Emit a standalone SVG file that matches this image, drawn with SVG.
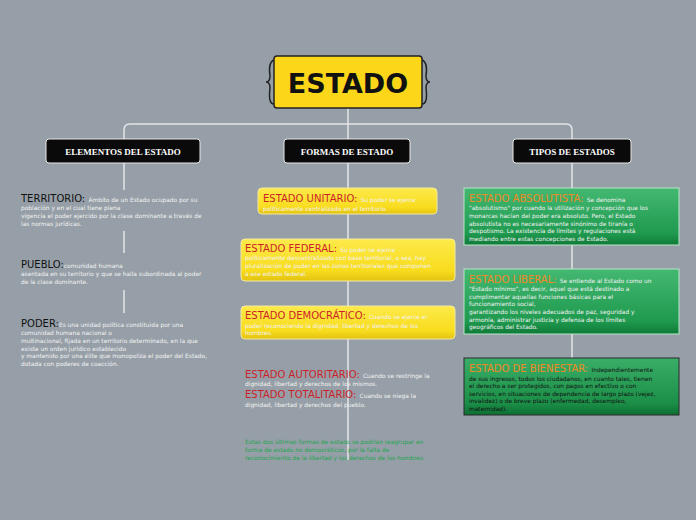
<svg xmlns="http://www.w3.org/2000/svg" width="696" height="520" viewBox="0 0 696 520">
<defs>
<linearGradient id="gy" x1="0" y1="0" x2="0" y2="1"><stop offset="0" stop-color="#fdea4a"/><stop offset="0.75" stop-color="#f8dc1e"/><stop offset="1" stop-color="#e3c20f"/></linearGradient>
<linearGradient id="gg" x1="0" y1="0" x2="0" y2="1"><stop offset="0" stop-color="#44b872"/><stop offset="0.8" stop-color="#1f9a4f"/><stop offset="1" stop-color="#0f7a38"/></linearGradient>
<linearGradient id="gg2" x1="0" y1="0" x2="0" y2="1"><stop offset="0" stop-color="#3aae68"/><stop offset="0.8" stop-color="#1b8e47"/><stop offset="1" stop-color="#0c6e32"/></linearGradient>
<style>
.t{font-family:"DejaVu Sans",sans-serif;font-size:10px}
.s{font-family:"DejaVu Sans",sans-serif;font-size:5.9px}
.hd{font-family:"Liberation Serif",serif;font-size:9px;font-weight:bold;fill:#fff;text-anchor:middle}
.hb{fill:#0a0a0a;stroke:#e8e8e8;stroke-width:1}
.ln{stroke:#e4e6e8;stroke-width:1.5;fill:none}
.yb{fill:url(#gy);stroke:#f3e9a0;stroke-width:1}
.gb{fill:url(#gg);stroke:#b8e6c8;stroke-width:1}
.red{fill:#cc1f2a}.org{fill:#f08a24}.wh{fill:#f2f2f2}.bk{fill:#111}
</style>
</defs>
<rect width="696" height="520" fill="#969fa7"/>
<g id="connectors" class="ln">
<path d="M348 108V139M124 139V130Q124 124 130 124H566Q572 124 572 130V139"/>
<path d="M124 163V190M124 231V253M124 290V313"/>
<path d="M348 163V460"/>
<path d="M572 163V188M572 245V269M572 334V358"/>
</g>
<g id="estado">
<path d="M274 60 Q268 62 270 76 Q270 82 266 82 Q270 82 270 88 Q268 104 274 104" fill="none" stroke="#222" stroke-width="1.5"/>
<path d="M422 60 Q428 62 426 76 Q426 82 430 82 Q426 82 426 88 Q428 104 422 104" fill="none" stroke="#222" stroke-width="1.5"/>
<rect x="274" y="56" width="148" height="52" rx="3" fill="#fcd619" stroke="#222" stroke-width="1.5"/>
<text x="348" y="93" text-anchor="middle" font-family="'DejaVu Sans',sans-serif" font-weight="bold" font-size="27" fill="#111">ESTADO</text>
</g>
<g id="h-elementos"><rect class="hb" x="46" y="139" width="154" height="24" rx="3"/><text class="hd" x="123" y="155">ELEMENTOS DEL ESTADO</text></g>
<g id="h-formas"><rect class="hb" x="284" y="139" width="126" height="24" rx="3"/><text class="hd" x="347" y="155">FORMAS DE ESTADO</text></g>
<g id="h-tipos"><rect class="hb" x="513" y="139" width="118" height="24" rx="3"/><text class="hd" x="572" y="155">TIPOS DE ESTADOS</text></g>
<g id="territorio">
<text x="21" y="202"><tspan class="t bk">TERRITORIO: </tspan><tspan class="s wh">Ámbito de un Estado ocupado por su</tspan></text>
<text class="s wh" x="21" y="210">población y en el cual tiene plena</text>
<text class="s wh" x="21" y="217.5">vigencia el poder ejercido por la clase dominante a través de</text>
<text class="s wh" x="21" y="225.5">las normas jurídicas.</text>
</g>
<g id="pueblo">
<text x="21" y="268"><tspan class="t bk">PUEBLO:</tspan><tspan class="s wh">comunidad humana</tspan></text>
<text class="s wh" x="21" y="276">asentada en su territorio y que se halla subordinada al poder</text>
<text class="s wh" x="21" y="284">de la clase dominante.</text>
</g>
<g id="poder">
<text x="21" y="327"><tspan class="t bk">PODER:</tspan><tspan class="s wh">Es una unidad política constituida por una</tspan></text>
<text class="s wh" x="21" y="334.5">comunidad humana nacional o</text>
<text class="s wh" x="21" y="342.5">multinacional, fijada en un territorio determinado, en la que</text>
<text class="s wh" x="21" y="350.5">existe un orden jurídico establecido</text>
<text class="s wh" x="21" y="357.5">y mantenido por una élite que monopoliza el poder del Estado,</text>
<text class="s wh" x="21" y="365.5">dotada con poderes de coacción.</text>
</g>
<g id="unitario">
<rect class="yb" x="258" y="188" width="179" height="26" rx="4"/>
<text x="263" y="202"><tspan class="t red">ESTADO UNITARIO: </tspan><tspan class="s wh">Su poder se ejerce</tspan></text>
<text class="s wh" x="263" y="210.5">políticamente centralizado en el territorio.</text>
</g>
<g id="federal">
<rect class="yb" x="241" y="239" width="214" height="42" rx="4"/>
<text x="245" y="252"><tspan class="t red">ESTADO FEDERAL: </tspan><tspan class="s wh">Su poder se ejerce</tspan></text>
<text class="s wh" x="245" y="260">políticamente descentralizado con base territorial, o sea, hay</text>
<text class="s wh" x="245" y="268">pluralización de poder en las zonas territoriales que componen</text>
<text class="s wh" x="245" y="276">a ese estado federal.</text>
</g>
<g id="democratico">
<rect class="yb" x="241" y="306" width="214" height="33" rx="4"/>
<text x="245" y="319"><tspan class="t red">ESTADO DEMOCRÁTICO: </tspan><tspan class="s wh">Cuando se ejerce el</tspan></text>
<text class="s wh" x="245" y="327.5">poder reconociendo la dignidad, libertad y derechos de los</text>
<text class="s wh" x="245" y="335">hombres.</text>
</g>
<g id="autoritario">
<text x="245" y="378"><tspan class="t red">ESTADO AUTORITARIO: </tspan><tspan class="s wh">Cuando se restringe la</tspan></text>
<text class="s wh" x="245" y="386">dignidad, libertad y derechos de los mismos.</text>
</g>
<g id="totalitario">
<text x="245" y="398"><tspan class="t red">ESTADO TOTALITARIO: </tspan><tspan class="s wh">Cuando se niega la</tspan></text>
<text class="s wh" x="245" y="406.5">dignidad, libertad y derechos del pueblo.</text>
</g>
<g id="nota" fill="#27a456">
<text class="s" x="245" y="444" fill="#22a552">Estas dos últimas formas de estado se podrían reagrupar en</text>
<text class="s" x="245" y="452" fill="#22a552">forma de estado no democráticos, por la falta de</text>
<text class="s" x="245" y="460" fill="#22a552">reconocimiento de la libertad y los derechos de los hombres.</text>
</g>
<g id="absolutista">
<rect class="gb" x="464" y="188" width="215" height="57"/>
<text x="469" y="202"><tspan class="t org">ESTADO ABSOLUTISTA: </tspan><tspan class="s wh">Se denomina</tspan></text>
<text class="s wh" x="469" y="210">"absolutismo" por cuando la utilización y concepción que los</text>
<text class="s wh" x="469" y="218">monarcas hacían del poder era absoluto. Pero, el Estado</text>
<text class="s wh" x="469" y="225.5">absolutista no es necesariamente sinónimo de tiranía o</text>
<text class="s wh" x="469" y="233">despotismo. La existencia de límites y regulaciones está</text>
<text class="s wh" x="469" y="240.5">mediando entre estas concepciones de Estado.</text>
</g>
<g id="liberal">
<rect class="gb" x="464" y="269" width="215" height="65"/>
<text x="469" y="283"><tspan class="t org">ESTADO LIBERAL: </tspan><tspan class="s wh">Se entiende al Estado como un</tspan></text>
<text class="s wh" x="469" y="291">"Estado mínimo", es decir, aquel que está destinado a</text>
<text class="s wh" x="469" y="299">cumplimentar aquellas funciones básicas para el</text>
<text class="s wh" x="469" y="306">funcionamiento social,</text>
<text class="s wh" x="469" y="314">garantizando los niveles adecuados de paz, seguridad y</text>
<text class="s wh" x="469" y="321.5">armonía, administrar justicia y defensa de los límites</text>
<text class="s wh" x="469" y="329">geográficos del Estado.</text>
</g>
<g id="bienestar">
<rect x="464" y="358" width="215" height="57" fill="url(#gg2)" stroke="#2a2a2a" stroke-width="1"/>
<text x="469" y="372"><tspan class="t org">ESTADO DE BIENESTAR: </tspan><tspan class="s bk">Independientemente</tspan></text>
<text class="s bk" x="469" y="380.5">de sus ingresos, todos los ciudadanos, en cuanto tales, tienen</text>
<text class="s bk" x="469" y="388">el derecho a ser protegidos, con pagos en efectivo o con</text>
<text class="s bk" x="469" y="396">servicios, en situaciones de dependencia de largo plazo (vejez,</text>
<text class="s bk" x="469" y="403">invalidez) o de breve plazo (enfermedad, desempleo,</text>
<text class="s bk" x="469" y="411">maternidad).</text>
</g>
</svg>
